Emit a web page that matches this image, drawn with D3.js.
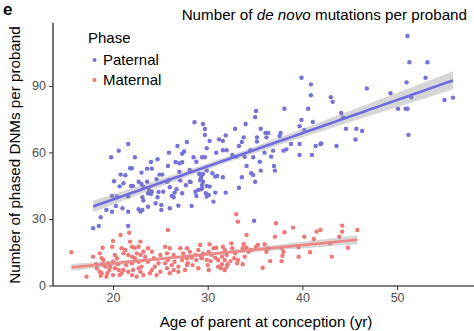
<!DOCTYPE html>
<html>
<head>
<meta charset="utf-8">
<script src="https://cdn.jsdelivr.net/npm/d3@7"></script>
<style>
  body { margin: 0; background: #fff; }
  svg { font-family: "Liberation Sans", Arial, sans-serif; }
</style>
</head>
<body>
<div id="chart"></div>
<script>
// Data: [age of parent at conception, phased DNMs]
const paternalPoints = [
  [51.1,112.5],[51.3,100.7],[53.2,100.7],[53.0,93.7],[51.0,91.6],[46.8,88.8],[49.3,86.7],[43.0,84.9],[43.2,82.8],[51.5,84.9],[55.0,83.7],[55.9,84.7],[50.1,79.7],[50.9,79.7],[51.1,79.7],[44.1,77.8],[44.3,75.7],[44.6,70.7],[45.7,70.7],[46.3,69.7],[45.6,65.8],[51.2,67.9],[43.6,62.9],[42.0,64.0],
  [39.9,93.7],[40.9,90.7],[40.9,85.8],[40.6,79.7],[38.1,79.7],[35.1,78.7],[35.0,75.9],[39.9,74.6],[41.1,73.7],[39.7,71.8],[29.5,72.8],[29.7,70.6],[34.0,72.8],[32.9,70.7],[35.6,70.7],[36.1,68.8],[36.4,68.8],[37.7,68.8],[31.9,67.7],[33.8,66.8],[35.2,66.8],[37.6,67.4],[29.7,67.9],[31.2,65.9],[31.6,65.2],[30.2,65.2],[33.6,64.7],[36.2,66.8],[41.4,62.9],[41.9,63.8],[39.7,63.8],[29.9,61.9],[33.3,62.9],[31.6,61.0],[32.0,61.0],[30.9,59.9],[34.5,61.0],[36.0,59.9],[36.9,60.8],[38.0,60.8],[38.3,61.4],[32.6,58.9],[33.0,58.0],[33.9,58.0],[34.8,57.8],[36.7,58.1],[39.7,58.9],[41.0,58.9],[29.4,57.8],[29.7,57.8],[35.5,55.8],[34.1,53.9],[37.0,53.9],[37.1,51.8],[35.6,51.8],[29.9,51.8],[30.5,50.6],[34.6,50.6],[34.8,49.8],[30.8,49.1],[31.6,48.8],[33.6,48.8],[35.0,46.8],[33.3,44.1],[29.3,48.8],[29.5,46.8],[29.9,44.9],
  [31.0,49.4],[31.9,41.9],[30.8,41.9],[30.6,37.8],[30.1,40.8],[29.9,40.1],[29.4,45.3],[30.2,44.6],[29.3,43.4],[29.2,47.6],[34.9,29.2],[35.2,64.9],[40.2,70.1],[38.8,63.8],
  [28.6,73.6],[21.6,63.8],[20.6,60.8],[19.8,57.8],[22.3,57.8],[27.8,64.7],[26.8,62.9],[27.5,60.4],[27.3,59.4],[25.9,59.9],[24.7,56.9],[24.0,55.7],[26.6,55.7],[27.0,55.1],[27.3,55.6],[28.5,57.8],[28.8,55.8],[21.8,52.9],[22.0,52.9],[23.6,52.7],[24.1,52.7],[25.8,53.9],[23.0,50.9],[20.8,50.0],[21.3,49.7],[24.9,50.0],[25.2,50.0],[27.0,51.3],[28.1,52.1],[29.1,50.3],[29.5,50.3],[20.1,47.0],[21.1,46.1],[20.7,44.7],[22.7,46.8],[23.6,46.8],[24.6,47.9],[25.7,46.8],[25.9,47.6],[27.1,47.3],[28.1,46.8],[29.3,47.9],[21.9,44.9],[22.1,44.9],[23.0,45.8],[23.2,44.6],[26.0,44.3],[26.7,43.4],[26.5,41.9],[27.7,45.2],[28.2,46.7],[29.0,43.1],[29.4,43.8],[23.8,43.1],[24.1,42.3],[24.8,42.2],[25.3,42.3],[21.6,40.1],[19.9,40.4],[20.4,40.1],[23.1,39.8],[23.2,38.3],[23.7,41.6],[24.0,41.3],[24.7,39.8],[26.2,40.4],[26.4,39.8],[27.3,41.6],[28.7,42.3],[28.8,40.4],[29.8,41.6],[19.3,34.1],[19.9,33.3],[20.3,35.9],[21.0,34.8],[21.6,33.3],[22.7,34.4],[22.9,33.3],[23.1,34.1],[23.7,35.5],[24.5,37.1],[25.1,36.3],[25.1,34.1],[26.0,34.8],[26.9,36.0],[28.3,35.9],[18.7,30.8],[17.9,25.8],[18.5,26.8],[21.6,26.8]
];

const maternalPoints = [
  [15.6,15.0],[17.2,4.0],[17.9,13.0],[18.2,9.6],[18.3,7.8],[18.6,6.2],[18.8,5.5],[18.7,4.4],[18.8,12.3],[19.0,11.5],[18.9,9.6],[19.2,8.5],[18.6,14.5],[18.9,17.0],[19.5,10.0],[19.7,8.5],[19.6,7.0],[19.4,5.5],[19.3,4.0],[19.9,17.5],[20.0,20.1],[20.2,13.8],[20.4,12.3],[20.0,10.7],[20.5,9.6],[20.2,7.8],[20.6,7.0],[20.0,4.7],[20.7,4.7],[20.9,5.5],[20.8,22.8],[21.7,23.8],[25.8,25.0],[20.9,16.8],[21.3,16.0],[21.1,14.5],[21.8,19.8],[22.0,17.5],[22.3,17.0],[22.7,17.5],[22.9,19.8],[21.6,13.8],[22.0,13.0],[22.3,12.3],[22.5,14.5],[22.9,13.8],[23.2,15.2],[23.4,13.0],[22.7,10.7],[22.0,10.0],[21.4,9.2],[21.1,7.0],[21.6,6.2],[22.1,7.0],[22.7,7.8],[23.0,8.5],[22.9,6.2],[22.0,4.7],[23.2,4.7],[22.5,4.0],[23.9,5.5],[23.7,16.8],[24.1,15.2],[23.7,10.7],[24.3,12.3],[24.4,8.5],[24.8,10.0],[25.0,13.8],[24.1,7.0],[25.0,6.2],[24.6,4.7],[25.5,17.5],[26.0,16.8],[25.7,14.5],[26.4,13.8],[25.8,11.5],[26.5,10.7],[26.2,9.2],[25.5,10.0],[25.7,7.8],[26.4,7.0],[26.9,8.5],[26.0,5.5],[26.9,6.2],[27.1,16.8],[27.4,14.5],[27.8,12.3],[27.3,11.5],[27.8,9.2],[27.6,7.0],
  [33.0,32.1],[33.2,28.8],[34.1,22.8],[37.2,28.1],[39.0,26.1],[38.1,24.0],[37.1,22.0],[41.5,24.3],[41.9,25.0],[40.2,22.0],[41.2,21.0],[44.2,27.0],[44.2,24.3],[43.9,22.0],[45.8,25.0],[42.9,19.0],[44.8,17.0],[43.1,13.0],[40.8,15.0],[39.6,17.2],[39.6,13.0],[37.8,16.8],[38.0,15.2],[37.9,13.4],[37.8,11.0],[36.6,11.0],[35.8,8.0],[36.0,18.6],[36.2,15.2],[36.4,16.8],[35.1,17.5],[35.3,18.3],[34.1,17.0],[34.6,16.0],[34.3,15.2],[33.8,18.6],[33.7,16.8],[33.9,13.0],[33.7,9.6],[32.5,19.0],[32.6,16.8],[32.9,14.5],[32.8,12.3],[33.2,11.5],[33.1,10.0],[32.4,11.0],[32.1,9.6],[31.6,17.5],[31.8,16.0],[32.0,13.8],[31.5,13.0],[31.8,11.5],[31.1,11.5],[31.5,9.6],[31.1,8.5],[32.0,8.5],[31.4,7.8],[31.8,7.0],[30.2,18.6],[30.6,16.8],[30.9,17.0],[30.1,15.2],[30.4,13.8],[30.8,12.5],[29.9,11.5],[30.3,11.0],[30.0,9.2],[30.1,7.0],[29.0,7.8],[29.2,18.3],[29.0,16.0],[29.5,14.5],[29.3,13.0],[28.7,13.8],[29.4,12.3],[28.8,11.5],[28.3,12.5],[28.1,15.2],[27.8,16.8],[27.9,10.0],[28.4,9.2]
];

const phases = ["Paternal", "Maternal"];
const xTicks = [20, 30, 40, 50];
const yTicks = [0, 30, 60, 90];

const colors = { Paternal: "#7471d8", Maternal: "#f07876" };
const lineColors = { Paternal: "#6d6be2", Maternal: "#f38585" };

// Dimensions
const width = 474, height = 331;
const svg = d3.select("#chart").append("svg")
  .attr("width", width).attr("height", height);

// Scales
const xScale = d3.scaleLinear().domain([13.66, 58.12]).range([53, 474]);
const yScale = d3.scaleLinear().domain([0, 118.5]).range([285.5, 22.7]);

// Linear fit with 95% band (like geom_smooth lm)
function fit(points) {
  const n = points.length;
  const mx = d3.mean(points, d => d[0]);
  const my = d3.mean(points, d => d[1]);
  const sxx = d3.sum(points, d => (d[0] - mx) ** 2);
  const sxy = d3.sum(points, d => (d[0] - mx) * (d[1] - my));
  const b = sxy / sxx, a = my - b * mx;
  const sse = d3.sum(points, d => (d[1] - a - b * d[0]) ** 2);
  const s = Math.sqrt(sse / (n - 2));
  const [x0, x1] = d3.extent(points, d => d[0]);
  return d3.range(0, 81).map(i => {
    const x = x0 + (x1 - x0) * i / 80;
    const se = s * Math.sqrt(1 / n + (x - mx) ** 2 / sxx);
    const y = a + b * x;
    return { x, y, lo: y - 1.97 * se, hi: y + 1.97 * se };
  });
}

const series = [
  { name: "Paternal", points: paternalPoints },
  { name: "Maternal", points: maternalPoints }
];

// Points
series.forEach(s => {
  svg.append("g").selectAll("circle")
    .data(s.points)
    .join("circle")
    .attr("cx", d => xScale(d[0]))
    .attr("cy", d => yScale(d[1]))
    .attr("r", 2.2)
    .attr("fill", colors[s.name]);
});

// Bands + lines
series.forEach(s => {
  const f = fit(s.points);
  svg.append("path")
    .datum(f)
    .attr("fill", "#999")
    .attr("opacity", 0.4)
    .attr("d", d3.area().x(d => xScale(d.x)).y0(d => yScale(d.lo)).y1(d => yScale(d.hi)));
  svg.append("path")
    .datum(f)
    .attr("fill", "none")
    .attr("stroke", lineColors[s.name])
    .attr("stroke-width", 2.6)
    .attr("d", d3.line().x(d => xScale(d.x)).y(d => yScale(d.y)));
});

// Axes
const xAxis = svg.append("g")
  .attr("transform", "translate(0,286)")
  .call(d3.axisBottom(xScale).tickValues(xTicks).tickSize(4).tickPadding(3));
xAxis.select(".domain").attr("d", "M53,0H474").attr("stroke-width", 1.1);

const yAxis = svg.append("g")
  .attr("transform", "translate(53,0)")
  .call(d3.axisLeft(yScale).tickValues(yTicks).tickSize(4).tickPadding(3));
yAxis.select(".domain").attr("d", "M0,22.7V286").attr("stroke-width", 1.1);

svg.selectAll(".tick text")
  .attr("font-size", 12.5)
  .attr("fill", "#4d4d4d")
  .attr("font-family", "'Liberation Sans', Arial, sans-serif");
svg.selectAll(".tick line").attr("stroke", "#333");

// Axis titles
svg.append("text")
  .attr("x", 266).attr("y", 327)
  .attr("text-anchor", "middle")
  .attr("font-size", 15.2)
  .text("Age of parent at conception (yr)");

svg.append("text")
  .attr("transform", "translate(20,155) rotate(-90)")
  .attr("text-anchor", "middle")
  .attr("font-size", 15.2)
  .text("Number of phased DNMs per proband");

// Title
const title = svg.append("text")
  .attr("x", 467).attr("y", 20)
  .attr("text-anchor", "end")
  .attr("font-size", 15.2);
title.append("tspan").text("Number of ");
title.append("tspan").attr("font-style", "italic").text("de novo");
title.append("tspan").text(" mutations per proband");

// Panel letter
svg.append("text")
  .attr("x", 3).attr("y", 15)
  .attr("font-size", 17)
  .attr("font-weight", "bold")
  .text("e");

// Legend
const legend = svg.append("g");
legend.append("text")
  .attr("x", 88).attr("y", 43)
  .attr("font-size", 15)
  .text("Phase");
legend.selectAll("g.item")
  .data(phases)
  .join("g")
  .attr("transform", (d, i) => `translate(0, ${60 + i * 20})`)
  .each(function (d) {
    const g = d3.select(this);
    g.append("circle").attr("cx", 94.5).attr("cy", 0).attr("r", 2).attr("fill", colors[d]);
    g.append("text").attr("x", 103).attr("y", 5).attr("font-size", 15).text(d);
  });
</script>
</body>
</html>
